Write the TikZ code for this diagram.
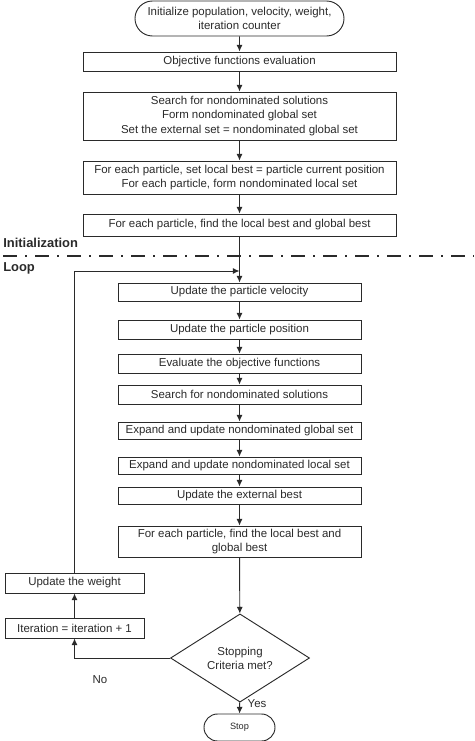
\documentclass[tikz,border=0pt]{standalone}
\usepackage{fontspec}
\setmainfont{Liberation Sans}
\usetikzlibrary{arrows.meta,shapes.geometric,shapes.misc}
\definecolor{ink}{HTML}{2A2A2A}
\begin{document}
\begin{tikzpicture}[x=0.75pt,y=-0.75pt,
  box/.style={draw=ink,line width=0.7pt,rectangle,inner sep=0pt,align=center,
    font=\fontsize{8.6}{10.6}\selectfont,text=ink},
  wide/.style={box,minimum width=234.75pt},
  narrow/.style={box,minimum width=182.25pt},
  side/.style={box,minimum width=104.25pt},
  term/.style={box,rounded rectangle},
  arr/.style={draw=ink,line width=0.7pt,-{Latex[length=5pt,width=4.5pt]}},
  lbl/.style={font=\fontsize{8.6}{10.6}\selectfont,text=ink,inner sep=0pt},
  sect/.style={font=\bfseries\fontsize{9.7}{11}\selectfont,text=ink,inner sep=0pt,anchor=west}
]
\useasboundingbox (0,0) rectangle (474,741);

% initialization part
\node[term,minimum width=156.75pt,minimum height=26.25pt] (start) at (239.5,18.5)
  {Initialize population, velocity, weight,\\iteration counter};
\node[wide,minimum height=14.25pt] (b1) at (239.5,61.5) {Objective functions evaluation};
\node[wide,minimum height=36pt] (b2) at (239.5,116)
  {Search for nondominated solutions\\Form nondominated global set\\Set the external set = nondominated global set};
\node[wide,minimum height=24.75pt] (b3) at (239.5,177.5)
  {For each particle, set local best = particle current position\\For each particle, form nondominated local set};
\node[wide,minimum height=16.5pt] (b4) at (239.5,225)
  {For each particle, find the local best and global best};

% section labels and separator
\node[sect] (init) at (3,243) {Initialization};
\node[sect] (loop) at (3,268) {Loop};
\coordinate (sepL) at (3,256);
\coordinate (sepR) at (474,256);
\draw[ink,line width=1.5pt,dash pattern=on 10.5pt off 6pt on 1.5pt off 6pt] (sepL) -- (sepR);

% loop part
\node[narrow,minimum height=13.5pt] (l1) at (239.5,292) {Update the particle velocity};
\node[narrow,minimum height=14.25pt] (l2) at (239.5,329.5) {Update the particle position};
\node[narrow,minimum height=14.25pt] (l3) at (239.5,363.5) {Evaluate the objective functions};
\node[narrow,minimum height=14.25pt] (l4) at (239.5,394.5) {Search for nondominated solutions};
\node[narrow,minimum height=12.75pt] (l5) at (239.5,430.5) {Expand and update nondominated global set};
\node[narrow,minimum height=12.75pt] (l6) at (239.5,465.5) {Expand and update nondominated local set};
\node[narrow,minimum height=12.75pt] (l7) at (239.5,495.5) {Update the external best};
\node[narrow,minimum height=23.25pt] (l8) at (239.5,541.5) {For each particle, find the local best and\\global best};

\node[draw=ink,line width=0.7pt,diamond,inner sep=0pt,minimum width=104.25pt,minimum height=48pt,
  align=center,font=\fontsize{8.6}{10.6}\selectfont,text=ink] (dec) at (240,658)
  {Stopping\\Criteria met?};
\node[term,minimum width=53.25pt,minimum height=20.25pt,font=\fontsize{6.9}{8}\selectfont] (stop) at (239.5,727.5) {Stop};

\node[side,minimum height=15pt] (wt) at (74.5,583) {Update the weight};
\node[side,minimum height=15pt] (it) at (74.5,628) {Iteration = iteration + 1};

\node[lbl] (no) at (100,680) {No};
\node[lbl] (yes) at (257,704) {Yes};

% connectors
\draw[arr] (start) -- (b1);
\draw[arr] (b1) -- (b2);
\draw[arr] (b2) -- (b3);
\draw[arr] (b3) -- (b4);
\draw[arr] (b4) -- (l1);
\draw[arr] (l1) -- (l2);
\draw[arr] (l2) -- (l3);
\draw[arr] (l3) -- (l4);
\draw[arr] (l4) -- (l5);
\draw[arr] (l5) -- (l6);
\draw[arr] (l6) -- (l7);
\draw[arr] (l7) -- (l8);
\draw[arr] (l8) -- (dec);
\draw[arr] (dec) -- (stop);
\draw[arr] (dec.west) -| (it.south);
\draw[arr] (it) -- (wt);
\coordinate (join) at (239.5,271);
\draw[arr] (wt.north) |- (join);
\end{tikzpicture}
\end{document}
